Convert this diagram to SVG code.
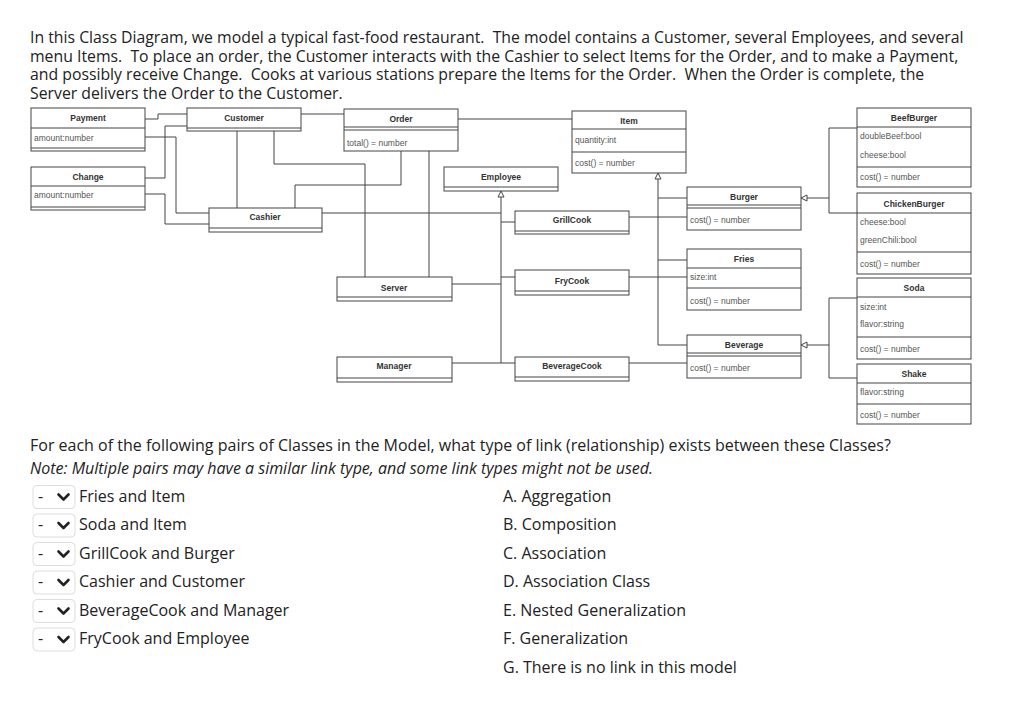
<svg xmlns="http://www.w3.org/2000/svg" width="1024" height="720" viewBox="0 0 1024 720">
<style>
.bx{fill:#fff;stroke:#444;stroke-width:1}
.ln{fill:none;stroke:#444;stroke-width:1}
.hd{font-family:"Liberation Sans",Arial,sans-serif;font-size:8.5px;font-weight:bold;fill:#333;text-anchor:middle}
.at{font-family:"Liberation Sans",Arial,sans-serif;font-size:8.5px;fill:#555}
.tri{fill:#fff;stroke:#444;stroke-width:1}
.p{font-family:"Open Sans","Noto Sans",sans-serif;font-size:16px;fill:#222}
.pi{font-family:"Open Sans","Noto Sans",sans-serif;font-size:15.8px;fill:#222;white-space:pre}
.it{font-style:italic}
.dd{fill:#fff;stroke:#ddd;stroke-width:1}
.chev{fill:none;stroke:#222;stroke-width:2.6;stroke-linecap:round;stroke-linejoin:round}
</style>
<rect width="1024" height="720" fill="#fff"/>

<g id="intro">
<text class="pi" x="30" y="43" xml:space="preserve">In this Class Diagram, we model a typical fast-food restaurant.  The model contains a Customer, several Employees, and several</text>
<text class="pi" x="30" y="62" xml:space="preserve">menu Items.  To place an order, the Customer interacts with the Cashier to select Items for the Order, and to make a Payment,</text>
<text class="pi" x="30" y="80" xml:space="preserve">and possibly receive Change.  Cooks at various stations prepare the Items for the Order.  When the Order is complete, the</text>
<text class="pi" x="30" y="99" xml:space="preserve">Server delivers the Order to the Customer.</text>
</g>

<g id="connectors">
<polyline class="ln" points="145,119 158,119 158,114 187,114"/>
<polyline class="ln" points="145,178 165,178 165,126 187,126"/>
<polyline class="ln" points="145,137 176,137 176,213 209,213"/>
<polyline class="ln" points="145,194 165,194 165,224 209,224"/>
<polyline class="ln" points="237,131 237,208"/>
<polyline class="ln" points="274,131 274,164 365,164 365,277"/>
<polyline class="ln" points="301,114 344,114"/>
<polyline class="ln" points="295,208 295,185 401,185 401,151"/>
<polyline class="ln" points="429,151 429,277"/>
<polyline class="ln" points="458,119 572,119"/>
<polyline class="ln" points="322,213 501,213"/>
<polyline class="ln" points="501,197 501,363"/>
<polyline class="ln" points="501,222 515,222"/>
<polyline class="ln" points="501,277 515,277"/>
<polyline class="ln" points="501,363 515,363"/>
<polyline class="ln" points="452,284 501,284"/>
<polyline class="ln" points="452,363 501,363"/>
<polyline class="ln" points="629,217 687,217"/>
<polyline class="ln" points="629,277 687,277"/>
<polyline class="ln" points="629,363 687,363"/>
<polyline class="ln" points="658,179 658,345 687,345"/>
<polyline class="ln" points="658,198 687,198"/>
<polyline class="ln" points="658,260 687,260"/>
<polyline class="ln" points="807,198 829,198"/>
<polyline class="ln" points="857,128 829,128 829,213 857,213"/>
<polyline class="ln" points="807,345 829,345"/>
<polyline class="ln" points="857,298 829,298 829,378 857,378"/>
<polygon class="tri" points="501,191 498,197 504,197"/>
<polygon class="tri" points="658,173 655,179 661,179"/>
<polygon class="tri" points="801,198 807,195 807,201"/>
<polygon class="tri" points="801,345 807,342 807,348"/>
</g>

<g id="Payment">
<rect class="bx" x="31" y="108" width="114" height="43"/>
<line class="ln" x1="31" y1="128" x2="145" y2="128"/>
<line class="ln" x1="31" y1="148" x2="145" y2="148"/>
<text class="hd" x="88" y="121">Payment</text>
<text class="at" x="34" y="141">amount:number</text>
</g>
<g id="Change">
<rect class="bx" x="31" y="167" width="114" height="43"/>
<line class="ln" x1="31" y1="186" x2="145" y2="186"/>
<line class="ln" x1="31" y1="207" x2="145" y2="207"/>
<text class="hd" x="88" y="180">Change</text>
<text class="at" x="34" y="198">amount:number</text>
</g>
<g id="Customer">
<rect class="bx" x="187" y="108" width="114" height="23"/>
<line class="ln" x1="187" y1="128" x2="301" y2="128"/>
<text class="hd" x="244" y="121">Customer</text>
</g>
<g id="Order">
<rect class="bx" x="344" y="109" width="114" height="42"/>
<line class="ln" x1="344" y1="127" x2="458" y2="127"/>
<line class="ln" x1="344" y1="130" x2="458" y2="130"/>
<text class="hd" x="401" y="122">Order</text>
<text class="at" x="347" y="146">total() = number</text>
</g>
<g id="Item">
<rect class="bx" x="572" y="111" width="114" height="62"/>
<line class="ln" x1="572" y1="129" x2="686" y2="129"/>
<line class="ln" x1="572" y1="152" x2="686" y2="152"/>
<text class="hd" x="629" y="124">Item</text>
<text class="at" x="575" y="143">quantity:int</text>
<text class="at" x="575" y="166">cost() = number</text>
</g>
<g id="Employee">
<rect class="bx" x="444" y="167" width="114" height="24"/>
<line class="ln" x1="444" y1="187" x2="558" y2="187"/>
<text class="hd" x="501" y="180">Employee</text>
</g>
<g id="Cashier">
<rect class="bx" x="209" y="208" width="113" height="24"/>
<line class="ln" x1="209" y1="228" x2="322" y2="228"/>
<text class="hd" x="265" y="220">Cashier</text>
</g>
<g id="GrillCook">
<rect class="bx" x="515" y="211" width="114" height="23"/>
<line class="ln" x1="515" y1="231" x2="629" y2="231"/>
<text class="hd" x="572" y="223">GrillCook</text>
</g>
<g id="FryCook">
<rect class="bx" x="515" y="270" width="114" height="25"/>
<line class="ln" x1="515" y1="291" x2="629" y2="291"/>
<text class="hd" x="572" y="284">FryCook</text>
</g>
<g id="BeverageCook">
<rect class="bx" x="515" y="357" width="114" height="24"/>
<line class="ln" x1="515" y1="377" x2="629" y2="377"/>
<text class="hd" x="572" y="369">BeverageCook</text>
</g>
<g id="Server">
<rect class="bx" x="337" y="277" width="115" height="24"/>
<line class="ln" x1="337" y1="297" x2="452" y2="297"/>
<text class="hd" x="394" y="291">Server</text>
</g>
<g id="Manager">
<rect class="bx" x="337" y="357" width="115" height="25"/>
<line class="ln" x1="337" y1="378" x2="452" y2="378"/>
<text class="hd" x="394" y="369">Manager</text>
</g>
<g id="Burger">
<rect class="bx" x="687" y="187" width="114" height="43"/>
<line class="ln" x1="687" y1="205" x2="801" y2="205"/>
<line class="ln" x1="687" y1="208" x2="801" y2="208"/>
<text class="hd" x="744" y="200">Burger</text>
<text class="at" x="690" y="223">cost() = number</text>
</g>
<g id="Fries">
<rect class="bx" x="687" y="249" width="114" height="61"/>
<line class="ln" x1="687" y1="268" x2="801" y2="268"/>
<line class="ln" x1="687" y1="288" x2="801" y2="288"/>
<text class="hd" x="744" y="262">Fries</text>
<text class="at" x="690" y="280">size:int</text>
<text class="at" x="690" y="304">cost() = number</text>
</g>
<g id="Beverage">
<rect class="bx" x="687" y="335" width="114" height="43"/>
<line class="ln" x1="687" y1="353" x2="801" y2="353"/>
<line class="ln" x1="687" y1="356" x2="801" y2="356"/>
<text class="hd" x="744" y="348">Beverage</text>
<text class="at" x="690" y="371">cost() = number</text>
</g>
<g id="BeefBurger">
<rect class="bx" x="857" y="108" width="114" height="79"/>
<line class="ln" x1="857" y1="127" x2="971" y2="127"/>
<line class="ln" x1="857" y1="167" x2="971" y2="167"/>
<text class="hd" x="914" y="121">BeefBurger</text>
<text class="at" x="860" y="139">doubleBeef:bool</text>
<text class="at" x="860" y="158">cheese:bool</text>
<text class="at" x="860" y="180">cost() = number</text>
</g>
<g id="ChickenBurger">
<rect class="bx" x="857" y="193" width="114" height="81"/>
<line class="ln" x1="857" y1="213" x2="971" y2="213"/>
<line class="ln" x1="857" y1="252" x2="971" y2="252"/>
<text class="hd" x="914" y="207">ChickenBurger</text>
<text class="at" x="860" y="225">cheese:bool</text>
<text class="at" x="860" y="243">greenChili:bool</text>
<text class="at" x="860" y="267">cost() = number</text>
</g>
<g id="Soda">
<rect class="bx" x="857" y="278" width="114" height="81"/>
<line class="ln" x1="857" y1="297" x2="971" y2="297"/>
<line class="ln" x1="857" y1="337" x2="971" y2="337"/>
<text class="hd" x="914" y="291">Soda</text>
<text class="at" x="860" y="310">size:int</text>
<text class="at" x="860" y="327">flavor:string</text>
<text class="at" x="860" y="352">cost() = number</text>
</g>
<g id="Shake">
<rect class="bx" x="857" y="364" width="114" height="60"/>
<line class="ln" x1="857" y1="383" x2="971" y2="383"/>
<line class="ln" x1="857" y1="404" x2="971" y2="404"/>
<text class="hd" x="914" y="377">Shake</text>
<text class="at" x="860" y="395">flavor:string</text>
<text class="at" x="860" y="418">cost() = number</text>
</g>

<g id="question">
<text class="p" x="30" y="451">For each of the following pairs of Classes in the Model, what type of link (relationship) exists between these Classes?</text>
<text class="p it" x="30" y="474">Note: Multiple pairs may have a similar link type, and some link types might not be used.</text>
</g>

<g id="pairs">
<rect class="dd" x="33" y="485.5" width="42" height="23" rx="4"/>
<rect class="dd" x="33" y="514" width="42" height="23" rx="4"/>
<rect class="dd" x="33" y="542.5" width="42" height="23" rx="4"/>
<rect class="dd" x="33" y="571" width="42" height="23" rx="4"/>
<rect class="dd" x="33" y="599.5" width="42" height="23" rx="4"/>
<rect class="dd" x="33" y="628" width="42" height="23" rx="4"/>
<g class="p">
<text x="38" y="502">-</text>
<text x="38" y="530">-</text>
<text x="38" y="559">-</text>
<text x="38" y="587">-</text>
<text x="38" y="616">-</text>
<text x="38" y="644">-</text>
</g>
<polyline class="chev" points="58.5,494.5 63.5,499.5 68.5,494.5"/>
<polyline class="chev" points="58.5,523 63.5,528 68.5,523"/>
<polyline class="chev" points="58.5,551.5 63.5,556.5 68.5,551.5"/>
<polyline class="chev" points="58.5,580 63.5,585 68.5,580"/>
<polyline class="chev" points="58.5,608.5 63.5,613.5 68.5,608.5"/>
<polyline class="chev" points="58.5,637 63.5,642 68.5,637"/>
<text class="p" x="79" y="502">Fries and Item</text>
<text class="p" x="79" y="530">Soda and Item</text>
<text class="p" x="79" y="559">GrillCook and Burger</text>
<text class="p" x="79" y="587">Cashier and Customer</text>
<text class="p" x="79" y="616">BeverageCook and Manager</text>
<text class="p" x="79" y="644">FryCook and Employee</text>
</g>

<g id="options">
<text class="p" x="503" y="502">A. Aggregation</text>
<text class="p" x="503" y="530">B. Composition</text>
<text class="p" x="503" y="559">C. Association</text>
<text class="p" x="503" y="587">D. Association Class</text>
<text class="p" x="503" y="616">E. Nested Generalization</text>
<text class="p" x="503" y="644">F. Generalization</text>
<text class="p" x="503" y="673">G. There is no link in this model</text>
</g>
</svg>
